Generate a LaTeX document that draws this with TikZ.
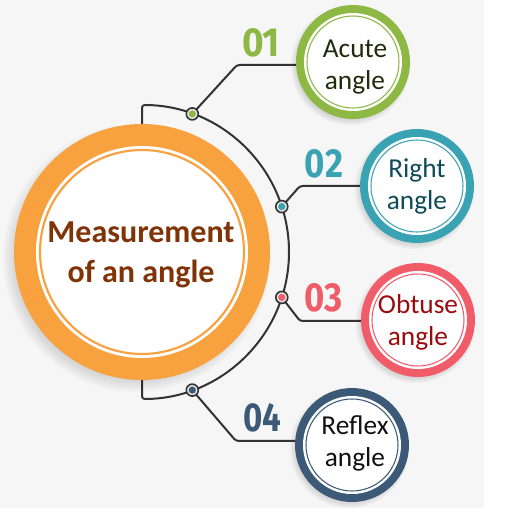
\documentclass[tikz,border=0pt]{standalone}
\usepackage{fontspec}
\setmainfont{Carlito}
\newfontfamily\numfont{Fira Sans}
\usetikzlibrary{shadows}
\definecolor{bg}{HTML}{F6F6F6}
\definecolor{lineC}{HTML}{333333}
\definecolor{orangeC}{HTML}{F8A13F}
\definecolor{greenC}{HTML}{8DB843}
\definecolor{tealC}{HTML}{3AA3B3}
\definecolor{redC}{HTML}{F05C68}
\definecolor{blueC}{HTML}{3C5A77}
\definecolor{mainT}{HTML}{7F3306}
\definecolor{greenT}{HTML}{1E2C0B}
\definecolor{tealT}{HTML}{0F4B57}
\definecolor{redT}{HTML}{9A0A0E}
\definecolor{blueT}{HTML}{111111}
\tikzset{
  conn/.style={draw=lineC, line width=1.5pt, line join=round, rounded corners=2pt},
  dotnode/.style={circle, draw=lineC, fill=gray!20, line width=1.2pt, minimum size=9pt, inner sep=0pt},
  ringnode/.style={circle, fill=#1, minimum size=85.5pt, inner sep=0pt,
     circular drop shadow={shadow xshift=-2pt, shadow yshift=-2pt, shadow scale=1.06, opacity=0.18, fill=black}},
  labeltext/.style={font=\fontsize{20.5}{24}\selectfont, align=center, inner sep=0pt, text=#1},
  numtext/.style={inner sep=0pt, text=#1},
}
\newcommand{\bignum}[1]{\resizebox{28.5pt}{21pt}{\numfont\bfseries #1}}
\begin{document}
\begin{tikzpicture}[x=0.75pt,y=-0.75pt]
\useasboundingbox (0,0) rectangle (519,517);
\fill[white] (0,0) rectangle (519,517);
\fill[bg] (0,0) rectangle (484,508);

% coordinates
\coordinate (m) at (142,252);
\coordinate (b1) at (237,65);
\coordinate (b2) at (300,186);
\coordinate (b3) at (300,321);
\coordinate (b4) at (236,441);
\coordinate (atop) at (142,140);
\coordinate (abot) at (142,365);
\coordinate (p1) at (192.3,113.9);
\coordinate (p2) at (281.8,206.6);
\coordinate (p3) at (281.8,297.4);
\coordinate (p4) at (192.3,390.1);
\coordinate (e1) at (330,65);
\coordinate (e2) at (395,186);
\coordinate (e3) at (395,321);
\coordinate (e4) at (330,441);

% main arc
\draw[conn] (atop) -- (142,105) arc[start angle=-90, end angle=90, radius=147] -- (abot);

% connectors
\draw[conn] (p1) -- (b1) -- (e1);
\draw[conn] (p2) -- (b2) -- (e2);
\draw[conn] (p3) -- (b3) -- (e3);
\draw[conn] (p4) -- (b4) -- (e4);

% dots
\node[dotnode] (d1) at (p1) {};
\node[dotnode] (d2) at (p2) {};
\node[dotnode] (d3) at (p3) {};
\node[dotnode] (d4) at (p4) {};
\fill[greenC] (d1) circle[radius=3.6];
\fill[tealC]  (d2) circle[radius=3.6];
\fill[redC]   (d3) circle[radius=3.6];
\fill[blueC]  (d4) circle[radius=3.6];

% side circles
\node[ringnode=greenC] (c1) at (353,62) {};
\node[ringnode=tealC]  (c2) at (417,186) {};
\node[ringnode=redC]   (c3) at (418,320) {};
\node[ringnode=blueC]  (c4) at (352,445) {};
\foreach \c/\col in {c1/greenC,c2/tealC,c3/redC,c4/blueC}{
  \fill[white] (\c) circle[radius=49];
  \draw[\col, line width=0.8pt] (\c) circle[radius=46];
}

% main circle
\node[circle, fill=orangeC, minimum size=192pt, inner sep=0pt,
  circular drop shadow={shadow xshift=-4pt, shadow yshift=-4pt, shadow scale=1.05, opacity=0.2, fill=black}] (main) at (m) {};
\fill[white] (main) circle[radius=106];
\draw[orangeC, line width=1.6pt] (main) circle[radius=102];

% texts
\node[font=\fontsize{24}{30}\selectfont\bfseries, align=center, inner sep=0pt, text=mainT] (mt) at (141,255) {Measurement\\of an angle};
\node[labeltext=greenT] (t1) at (355,67) {Acute\\angle};
\node[labeltext=tealT]  (t2) at (417,186) {Right\\angle};
\node[labeltext=redT]   (t3) at (418,322.5) {Obtuse\\angle};
\node[labeltext=blueT]  (t4) at (355,443) {Reflex\\angle};

% numbers
\node[numtext=greenC] (n1) at (261,42.5) {\bignum{01}};
\node[numtext=tealC]  (n2) at (324,163.5) {\bignum{02}};
\node[numtext=redC]   (n3) at (324,298) {\bignum{03}};
\node[numtext=blueC]  (n4) at (262,418) {\bignum{04}};
\end{tikzpicture}
\end{document}
